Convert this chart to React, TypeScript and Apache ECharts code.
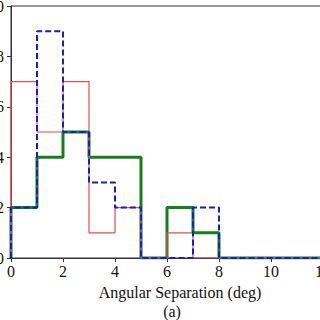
import React, { useEffect, useRef } from "react";
import * as echarts from "echarts";

// Bin left edges (deg), bin width 1
const binEdges = [0, 1, 2, 3, 4, 5, 6, 7, 8, 9, 10, 11, 12];
const lastEdge = 13;
const redCounts = [7, 5, 7, 1, 2, 0, 1, 0, 0, 0, 0, 0, 0];
const blueCounts = [2, 9, 5, 3, 2, 0, 0, 2, 0, 0, 0, 0, 0];
const greenCounts = [2, 4, 5, 4, 4, 0, 2, 1, 0, 0, 0, 0, 0];

const xTicks = [0, 2, 4, 6, 8, 10, 12];
const yTicks = [0, 2, 4, 6, 8, 10];

const FONT = '"Liberation Serif"';

function stepData(counts: number[]) {
  const pts: number[][] = [[binEdges[0], 0]];
  binEdges.forEach((e, i) => pts.push([e, counts[i]]));
  pts.push([lastEdge, 0]);
  return pts;
}

export default function App() {
  const ref = useRef<HTMLDivElement>(null);
  useEffect(() => {
    if (!ref.current) return;
    const chart = echarts.init(ref.current, undefined, { renderer: "svg" });
    const mk = (name: string, counts: number[], color: string, width: number, type: any) => ({
      name,
      type: "line",
      step: "end",
      data: stepData(counts),
      showSymbol: false,
      symbol: "none",
      lineStyle: { color, width, type },
      silent: true,
    });
    chart.setOption({
      animation: false,
      textStyle: { fontFamily: FONT },
      grid: {
        left: 11,
        top: 6,
        right: -29,
        bottom: 62,
        show: true,
        borderColor: "#333",
        borderWidth: 1,
        containLabel: false,
        outerBoundsMode: "none",
      },
      xAxis: {
        type: "value",
        min: 0,
        max: lastEdge,
        interval: 2,
        name: "Angular Separation (deg)",
        nameLocation: "middle",
        nameGap: 26,
        nameTextStyle: { fontFamily: FONT, fontSize: 16, color: "#111" },
        axisLine: { show: true, onZero: false, lineStyle: { color: "#333", width: 1 } },
        axisTick: { show: true, inside: false, length: 4, lineStyle: { color: "#333" } },
        axisLabel: {
          fontFamily: FONT,
          fontSize: 16,
          color: "#111",
          margin: 5,
          formatter: (v: number) => (xTicks.includes(v) ? String(v) : ""),
        },
        splitLine: { show: false },
      },
      yAxis: {
        type: "value",
        min: 0,
        max: 10,
        interval: 2,
        axisLine: { show: true, lineStyle: { color: "#333", width: 1 } },
        axisTick: { show: true, inside: false, length: 4, lineStyle: { color: "#333" } },
        axisLabel: {
          fontFamily: FONT,
          fontSize: 16,
          color: "#111",
          margin: 7,
          formatter: (v: number) => (yTicks.includes(v) ? String(v) : ""),
        },
        splitLine: { show: false },
      },
      graphic: [
        {
          type: "text",
          x: 172,
          y: 311,
          style: {
            text: "(a)",
            fontFamily: FONT,
            fontSize: 16,
            fill: "#111",
            align: "center",
            verticalAlign: "middle",
          },
        },
      ],
      series: [
        mk("green", greenCounts, "#14801a", 3, "solid"),
        mk("red", redCounts, "#e05050", 1.2, "solid"),
        mk("blue", blueCounts, "#1a1ad0", 2, [6, 3]),
      ],
    });
    return () => chart.dispose();
  }, []);
  return (
    <div
      ref={ref}
      style={{ position: "fixed", left: 0, top: 0, width: 320, height: 320, background: "#fff" }}
    />
  );
}
